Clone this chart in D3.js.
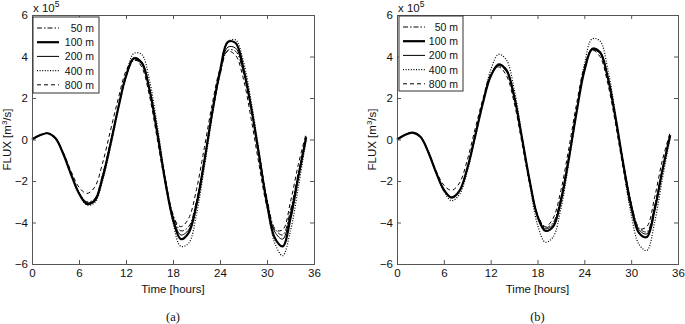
<!DOCTYPE html>
<html>
<head>
<meta charset="utf-8">
<title>FLUX vs time</title>
<script src="https://d3js.org/d3.v7.min.js"></script>
<style>
  body { margin: 0; background: #fff; }
  text { font-family: "Liberation Sans", Arial, sans-serif; fill: #111; }
  .tick-label { font-size: 11.5px; }
  .axis-label { font-size: 11.5px; }
  .legend-label { font-size: 10.5px; }
  .caption { font-family: "Liberation Serif", "Times New Roman", serif; font-size: 12.5px; }
  .curve { fill: none; stroke: #000; }
</style>
</head>
<body>
<div id="chart"></div>
<script>
// time axis, hourly samples
const hours = d3.range(0, 36);
const xTicks = [0, 6, 12, 18, 24, 30, 36];
const yTicks = [-6, -4, -2, 0, 2, 4, 6];
const legendNames = ["50 m", "100 m", "200 m", "400 m", "800 m"];

// panel (a) — flux in units of 1e5 m^3/s
const a50  = [0, 0.2, 0.3, 0.06, -0.7, -1.68, -2.55, -3.0, -2.85, -1.7, -0.15, 1.5, 3.0, 3.8, 3.65, 2.4, 0.35, -1.85, -3.6, -4.4, -4.2, -2.95, -0.95, 1.2, 3.1, 4.3, 4.25, 3.2, 1.4, -0.7, -2.85, -4.3, -4.6, -3.4, -1.6, 0.15];
const a100 = [0, 0.2, 0.3, 0.06, -0.7, -1.7, -2.6, -3.1, -2.95, -1.85, -0.25, 1.5, 3.05, 3.9, 3.7, 2.4, 0.3, -2.0, -3.85, -4.8, -4.5, -3.15, -1.05, 1.3, 3.3, 4.7, 4.65, 3.4, 1.5, -0.8, -3.1, -4.75, -5.15, -3.8, -1.8, 0.1];
const a200 = [0, 0.2, 0.3, 0.06, -0.7, -1.7, -2.58, -3.05, -2.9, -1.8, -0.2, 1.52, 3.08, 3.95, 3.75, 2.45, 0.35, -1.9, -3.75, -4.6, -4.35, -3.05, -1.0, 1.25, 3.2, 4.45, 4.4, 3.3, 1.45, -0.75, -2.95, -4.45, -4.8, -3.55, -1.7, 0.1];
const a400 = [0, 0.2, 0.3, 0.07, -0.68, -1.7, -2.62, -3.15, -3.05, -2.0, -0.4, 1.4, 3.05, 4.15, 4.1, 2.85, 0.65, -1.85, -4.0, -5.15, -5.0, -3.6, -1.35, 1.1, 3.25, 4.7, 4.8, 3.75, 1.8, -0.6, -3.1, -5.0, -5.6, -4.4, -2.3, 0.0];
const a800 = [0, 0.2, 0.3, 0.07, -0.63, -1.54, -2.3, -2.6, -2.3, -1.15, 0.4, 1.95, 3.3, 3.9, 3.5, 2.1, 0.0, -2.1, -3.7, -4.2, -3.8, -2.4, -0.4, 1.7, 3.4, 4.25, 4.05, 2.9, 0.95, -1.25, -3.25, -4.35, -4.35, -3.0, -1.2, 0.3];

// panel (b)
const b50  = [0, 0.22, 0.33, 0.13, -0.6, -1.57, -2.4, -2.75, -2.45, -1.35, 0.2, 1.8, 3.05, 3.55, 3.3, 2.05, 0.1, -1.95, -3.6, -4.25, -4.0, -2.8, -0.85, 1.35, 3.3, 4.3, 4.15, 2.95, 1.0, -1.15, -3.05, -4.25, -4.45, -3.2, -1.4, 0.2];
const b100 = [0, 0.22, 0.33, 0.13, -0.6, -1.58, -2.42, -2.8, -2.48, -1.4, 0.15, 1.75, 3.05, 3.6, 3.35, 2.1, 0.1, -2.0, -3.7, -4.4, -4.2, -2.95, -0.95, 1.3, 3.3, 4.35, 4.2, 3.0, 1.05, -1.2, -3.2, -4.5, -4.7, -3.4, -1.5, 0.2];
const b200 = [0, 0.22, 0.33, 0.13, -0.6, -1.58, -2.42, -2.8, -2.48, -1.4, 0.17, 1.78, 3.08, 3.65, 3.4, 2.1, 0.1, -1.95, -3.65, -4.3, -4.1, -2.85, -0.9, 1.35, 3.35, 4.4, 4.25, 3.0, 1.05, -1.15, -3.1, -4.35, -4.55, -3.3, -1.45, 0.2];
const b400 = [0, 0.22, 0.33, 0.13, -0.6, -1.6, -2.5, -2.95, -2.65, -1.55, 0.05, 1.75, 3.35, 4.1, 3.85, 2.45, 0.2, -2.15, -4.1, -4.95, -4.7, -3.35, -1.15, 1.35, 3.6, 4.85, 4.75, 3.4, 1.2, -1.3, -3.6, -5.05, -5.35, -4.0, -1.9, 0.1];
const b800 = [0, 0.22, 0.33, 0.14, -0.56, -1.5, -2.2, -2.45, -2.1, -1.0, 0.5, 1.95, 3.15, 3.5, 3.1, 1.8, -0.15, -2.15, -3.65, -4.2, -3.8, -2.45, -0.45, 1.7, 3.5, 4.3, 4.0, 2.7, 0.75, -1.45, -3.35, -4.3, -4.2, -2.8, -1.0, 0.35];

// line styles per legend entry
const styles = [
  {w: 1, dash: "5,2,1.5,2"},
  {w: 2.2, dash: null},
  {w: 1, dash: null},
  {w: 1.2, dash: "1,1.6"},
  {w: 1, dash: "4,3"}
];

const W = 685, H = 324;
const svg = d3.select("#chart").append("svg")
  .attr("width", W).attr("height", H);

const panels = [
  {left: 32, right: 314, series: [a50, a100, a200, a400, a800], caption: "(a)",
   legend: {x: 33, y: 17, w: 66, h: 76}},
  {left: 397, right: 678, series: [b50, b100, b200, b400, b800], caption: "(b)",
   legend: {x: 399, y: 16, w: 64, h: 75}}
];
const plotTop = 15, plotBottom = 264;

panels.forEach(p => {
  const x = d3.scaleLinear().domain([0, 36]).range([p.left, p.right]);
  const y = d3.scaleLinear().domain([-6, 6]).range([plotBottom, plotTop]);
  const g = svg.append("g");

  // curves
  const line = d3.line()
    .x((d, i) => x(hours[i]))
    .y(d => y(d))
    .curve(d3.curveCatmullRom);
  p.series.forEach((s, i) => {
    g.append("path")
      .attr("class", "curve")
      .attr("d", line(s))
      .attr("stroke-width", styles[i].w)
      .attr("stroke-dasharray", styles[i].dash);
  });

  // axes (ticks inside, box on)
  const frame = "#555";
  const styleAxis = a => {
    a.attr("font-family", null).attr("font-size", null);
    a.select(".domain").attr("stroke", frame);
    a.selectAll(".tick line").attr("stroke", frame);
    a.selectAll("text").attr("class", "tick-label").attr("fill", null);
  };
  g.append("g").attr("transform", `translate(0,${plotBottom})`)
    .call(d3.axisBottom(x).tickValues(xTicks).tickSize(-4).tickPadding(5))
    .call(styleAxis);
  g.append("g").attr("transform", `translate(0,${plotTop})`)
    .call(d3.axisTop(x).tickValues(xTicks).tickSize(-4).tickFormat(""))
    .call(styleAxis);
  g.append("g").attr("transform", `translate(${p.left},0)`)
    .call(d3.axisLeft(y).tickValues(yTicks).tickSize(-4).tickPadding(4)
      .tickFormat(d => d < 0 ? "\u2212" + Math.abs(d) : d))
    .call(styleAxis);
  g.append("g").attr("transform", `translate(${p.right},0)`)
    .call(d3.axisRight(y).tickValues(yTicks).tickSize(-4).tickFormat(""))
    .call(styleAxis);

  // exponent label
  const ex = g.append("text").attr("class", "axis-label")
    .attr("x", p.left + 1).attr("y", 12);
  ex.append("tspan").text("x 10");
  ex.append("tspan").attr("dy", -5).attr("font-size", 8.5).text("5");

  // axis titles
  g.append("text").attr("class", "axis-label")
    .attr("x", (p.left + p.right) / 2).attr("y", 293)
    .attr("text-anchor", "middle").text("Time [hours]");
  const yl = g.append("text").attr("class", "axis-label")
    .attr("transform", `translate(${p.left - 21},${(plotTop + plotBottom) / 2}) rotate(-90)`)
    .attr("text-anchor", "middle");
  yl.append("tspan").text("FLUX [m");
  yl.append("tspan").attr("dy", -4).attr("font-size", 8).text("3");
  yl.append("tspan").attr("dy", 4).text("/s]");

  // caption
  g.append("text").attr("class", "caption")
    .attr("x", (p.left + p.right) / 2).attr("y", 321)
    .attr("text-anchor", "middle").text(p.caption);

  // legend
  const L = p.legend;
  const lg = g.append("g");
  lg.append("rect").attr("x", L.x).attr("y", L.y).attr("width", L.w).attr("height", L.h)
    .attr("fill", "#fff").attr("stroke", "#333");
  legendNames.forEach((name, i) => {
    const ly = L.y + 11 + i * 14.2;
    lg.append("line")
      .attr("x1", L.x + 4).attr("x2", L.x + 26).attr("y1", ly).attr("y2", ly)
      .attr("stroke", "#000")
      .attr("stroke-width", styles[i].w)
      .attr("stroke-dasharray", styles[i].dash);
    lg.append("text").attr("class", "legend-label")
      .attr("x", L.x + L.w - 5).attr("y", ly + 4)
      .attr("text-anchor", "end").text(name);
  });
});
</script>
</body>
</html>
